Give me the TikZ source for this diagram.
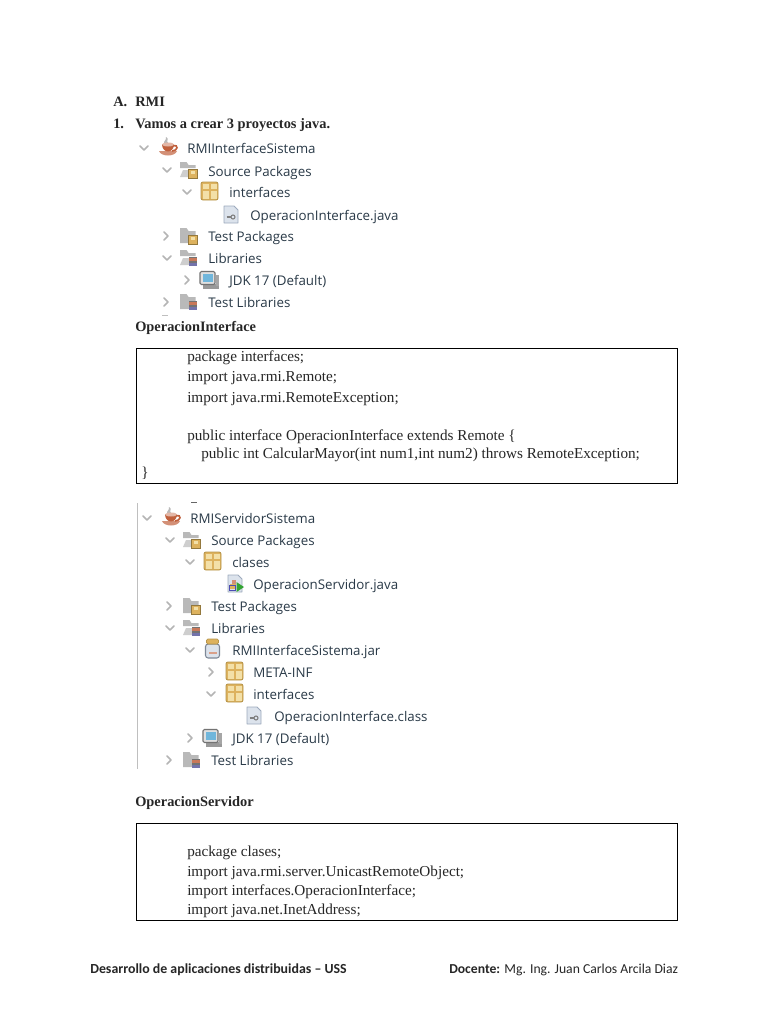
\documentclass[tikz,border=0pt]{standalone}
\usepackage{fontspec}
\setmainfont{Liberation Serif}
\newfontfamily\treefont{Open Sans}
\newfontfamily\footfont{Carlito}
\definecolor{chev}{HTML}{B4B4B4}
\definecolor{treetxt}{HTML}{2A3A48}
\definecolor{pkgfill}{HTML}{F3E0A8}
\definecolor{pkgdark}{HTML}{DDB25E}
\definecolor{pkgline}{HTML}{B8964C}
\definecolor{foldgrey}{HTML}{B9B9B9}
\definecolor{filefill}{HTML}{DCE3EC}
\definecolor{fileline}{HTML}{9DAABD}
\definecolor{cup}{HTML}{C0603C}
\tikzset{
  head/.style={anchor=base west,inner sep=0pt,font=\fontsize{10.8}{12}\selectfont\bfseries,text=black!85},
  code/.style={anchor=base west,inner sep=0pt,font=\fontsize{11.4}{13}\selectfont,text=black!85},
  tree/.style={anchor=base west,inner sep=0pt,font=\treefont\fontsize{10}{12}\selectfont,text=treetxt},
  footl/.style={anchor=base west,inner sep=0pt,font=\footfont\fontsize{10.4}{12}\selectfont,text=black!85},
  footr/.style={anchor=base west,inner sep=0pt,font=\footfont\fontsize{10.25}{12}\selectfont,text=black!85},
  frame/.style={draw=black,line width=.8pt,fill=white},
  chevline/.style={draw=chev,line width=1.2pt,line cap=round,line join=round},
}
\newcommand{\chevD}[2]{\draw[chevline] (#1-4,#2-2) -- (#1,#2+2) -- (#1+4,#2-2);}
\newcommand{\chevR}[2]{\draw[chevline] (#1-2,#2-4) -- (#1+2,#2) -- (#1-2,#2+4);}
\newcommand{\pkgI}[2]{%
  \draw[pkgline,fill=pkgdark,line width=.7pt,rounded corners=1.5pt] (#1-8.5,#2-9) rectangle (#1+8.5,#2+9);
  \fill[pkgfill] (#1-7,#2-7.5) rectangle (#1-1,#2-2);
  \fill[pkgfill] (#1+1,#2-7.5) rectangle (#1+7,#2-2);
  \fill[pkgfill] (#1-7,#2) rectangle (#1-1,#2+7.5);
  \fill[pkgfill] (#1+1,#2) rectangle (#1+7,#2+7.5);}
\newcommand{\foldI}[2]{%
  \fill[foldgrey] (#1-8.5,#2-8) -- (#1-2,#2-8) -- (#1,#2-5) -- (#1+7,#2-5) -- (#1+7,#2+7) -- (#1-8.5,#2+7) -- cycle;}
\newcommand{\foldO}[2]{%
  \fill[foldgrey] (#1-8.5,#2-8) -- (#1-2,#2-8) -- (#1,#2-5) -- (#1+7,#2-5) -- (#1+7,#2-2) -- (#1-8.5,#2-2) -- cycle;
  \fill[foldgrey!70!white] (#1-5.5,#2) -- (#1+8,#2) -- (#1+5,#2+7) -- (#1-8.5,#2+7) -- cycle;}
\newcommand{\srcB}[2]{%
  \draw[pkgline!80!black,fill=pkgdark,line width=.5pt] (#1,#2-1) rectangle (#1+8.5,#2+8);
  \fill[pkgfill] (#1+2,#2+1) rectangle (#1+6.5,#2+3.5);}
\newcommand{\libB}[2]{%
  \fill[black!55] (#1,#2-1) rectangle (#1+8.5,#2+8);
  \fill[cup!85!white] (#1+.5,#2) rectangle (#1+8,#2+3);
  \fill[blue!40!black!55] (#1+.5,#2+5) rectangle (#1+8,#2+7.5);}
\newcommand{\srcI}[2]{\foldI{#1}{#2}\srcB{#1}{#2}}
\newcommand{\srcO}[2]{\foldO{#1}{#2}\srcB{#1}{#2}}
\newcommand{\libI}[2]{\foldI{#1}{#2}\libB{#1}{#2}}
\newcommand{\libO}[2]{\foldO{#1}{#2}\libB{#1}{#2}}
\newcommand{\fileI}[2]{%
  \draw[fileline,fill=filefill,line width=.7pt,line join=round] (#1-7,#2-9) -- (#1+3,#2-9) -- (#1+7,#2-5) -- (#1+7,#2+8) -- (#1-7,#2+8) -- cycle;}
\newcommand{\keyI}[2]{\fileI{#1}{#2}%
  \draw[black!50,line width=.8pt] (#1+2,#2+2) circle (2);
  \draw[black!50,line width=.8pt] (#1-4.5,#2+2) -- (#1,#2+2);}
\newcommand{\runI}[2]{\fileI{#1}{#2}%
  \fill[pkgdark] (#1-5,#2+0) rectangle (#1+1,#2+5);
  \fill[cup!70!white] (#1-3,#2-4) rectangle (#1+1,#2);
  \draw[blue!40!gray,line width=.7pt] (#1-6,#2+1) rectangle (#1,#2+6);
  \fill[green!55!black!80!white] (#1+1.5,#2-2) -- (#1+9,#2+3) -- (#1+1.5,#2+8) -- cycle;}
\newcommand{\cupI}[2]{%
  \fill[foldgrey] (#1-2,#2-10) .. controls (#1+2,#2-8) and (#1-3,#2-6) .. (#1+1,#2-3) -- (#1-4,#2-3) .. controls (#1-5,#2-6) and (#1-1,#2-7) .. cycle;
  \fill[cup!70!white] (#1-9,#2+4) .. controls (#1-7,#2+10) and (#1+7,#2+10) .. (#1+9,#2+4) -- cycle;
  \draw[cup,line width=1.2pt] (#1+5,#2-1) .. controls (#1+11,#2-3) and (#1+10,#2+4) .. (#1+4,#2+4);
  \fill[cup] (#1-6,#2-3) .. controls (#1-6,#2+7) and (#1+6,#2+7) .. (#1+6,#2-3) -- cycle;
  \fill[cup!45!white] (#1,#2-2.5) ellipse (6 and 2);}
\newcommand{\jdkI}[2]{%
  \fill[black!40] (#1-6,#2+4) rectangle (#1+9.5,#2+8.5);
  \fill[black!35] (#1+6.5,#2-5) rectangle (#1+10,#2+6);
  \draw[black!55,fill=black!12,line width=.8pt,rounded corners=1pt] (#1-9,#2-8.5) rectangle (#1+6,#2+4.5);
  \fill[blue!35!cyan!60!gray!70!white] (#1-6.5,#2-6) rectangle (#1+3.5,#2+2);}
\newcommand{\jarI}[2]{%
  \draw[fileline!80!black,fill=filefill,line width=.8pt,rounded corners=2pt] (#1-7,#2-5) rectangle (#1+7,#2+9);
  \draw[pkgline,fill=pkgdark,line width=.5pt,rounded corners=1pt] (#1-6,#2-10) rectangle (#1+6,#2-5);
  \fill[cup!60!white] (#1-4,#2+3) rectangle (#1+4,#2+5);}
\begin{document}
\begin{tikzpicture}[x=.75pt,y=-.75pt]
\useasboundingbox[fill=white] (0,0) rectangle (768,1024);
% headings
\node[head] (hA) at (113,107) {A.};
\node[head] (hRMI) at (135,107) {RMI};
\node[head] (h1) at (113,128) {1.};
\node[head] (hV) at (135,128) {Vamos a crear 3 proyectos java.};
\node[head] (hOI) at (135,331) {OperacionInterface};
\node[head] (hOS) at (135,806) {OperacionServidor};
% tree 1
\chevD{144}{148}\cupI{168}{147}
\node[tree] (a1) at (187,153) {RMIInterfaceSistema};
\chevD{167}{170}\srcO{188.5}{170}
\node[tree] (a2) at (208,176) {Source Packages};
\chevD{187}{192}\pkgI{209.5}{191}
\node[tree] (a3) at (229,197) {interfaces};
\keyI{231}{215}
\node[tree] (a4) at (250,220) {OperacionInterface.java};
\chevR{166}{236}\srcI{188.5}{236}
\node[tree] (a5) at (208,241) {Test Packages};
\chevD{167}{258}\libO{188.5}{258}
\node[tree] (a6) at (208,263) {Libraries};
\chevR{187}{280}\jdkI{209}{280}
\node[tree] (a7) at (229,285) {JDK 17 (Default)};
\chevR{166}{302}\libI{188.5}{302}
\node[tree] (a8) at (208,307) {Test Libraries};
\draw[black!25,line width=.8pt] (162,315.5) -- (168,315.5);
% box 1
\node[frame,anchor=north west,minimum width=405.75pt,minimum height=101.25pt,inner sep=0pt] (b1) at (136,348) {};
\node[code] (c1) at (187,361) {package interfaces;};
\node[code] (c2) at (187,381.5) {import java.rmi.Remote;};
\node[code] (c3) at (187,402) {import java.rmi.RemoteException;};
\node[code] (c4) at (187,440) {public interface OperacionInterface extends Remote \{};
\node[code] (c5) at (201,458) {public int CalcularMayor(int num1,int num2) throws RemoteException;};
\node[code] (c6) at (141,477) {\}};
% tree 2
\draw[black!25,line width=1.2pt] (137.5,503) -- (137.5,769);
\draw[black!60,line width=.8pt] (191,502.5) -- (197,502.5);
\chevD{147}{518}\cupI{171}{517}
\node[tree] (s1) at (190,523) {RMIServidorSistema};
\chevD{170}{540}\srcO{191.5}{540}
\node[tree] (s2) at (211,545) {Source Packages};
\chevD{190}{562}\pkgI{212.5}{561}
\node[tree] (s3) at (232,567) {clases};
\runI{235}{584}
\node[tree] (s4) at (253,589) {OperacionServidor.java};
\chevR{169}{606}\srcI{191.5}{606}
\node[tree] (s5) at (211,611) {Test Packages};
\chevD{170}{628}\libO{191.5}{628}
\node[tree] (s6) at (211,633) {Libraries};
\chevD{190}{650}\jarI{212.5}{649}
\node[tree] (s7) at (232,655) {RMIInterfaceSistema.jar};
\chevR{211}{672}\pkgI{234.5}{671}
\node[tree] (s8) at (253,677) {META-INF};
\chevD{211}{694}\pkgI{234.5}{693}
\node[tree] (s9) at (253,699) {interfaces};
\keyI{254}{716}
\node[tree] (s10) at (274,721) {OperacionInterface.class};
\chevR{190}{738}\jdkI{212}{738}
\node[tree] (s11) at (232,743) {JDK 17 (Default)};
\chevR{169}{760}\libI{191.5}{760}
\node[tree] (s12) at (211,765) {Test Libraries};
% box 2
\node[frame,anchor=north west,minimum width=405.75pt,minimum height=72.75pt,inner sep=0pt] (b2) at (136,823) {};
\node[code] (d1) at (187,856) {package clases;};
\node[code] (d2) at (187,876) {import java.rmi.server.UnicastRemoteObject;};
\node[code] (d3) at (187,895) {import interfaces.OperacionInterface;};
\node[code] (d4) at (187,914) {import java.net.InetAddress;};
% footer
\node[footl] (f1) at (90,973) {\bfseries Desarrollo de aplicaciones distribuidas – USS};
\node[footr] (f2) at (449,973) {\textbf{Docente:} Mg. Ing. Juan Carlos Arcila Diaz};
\end{tikzpicture}
\end{document}
